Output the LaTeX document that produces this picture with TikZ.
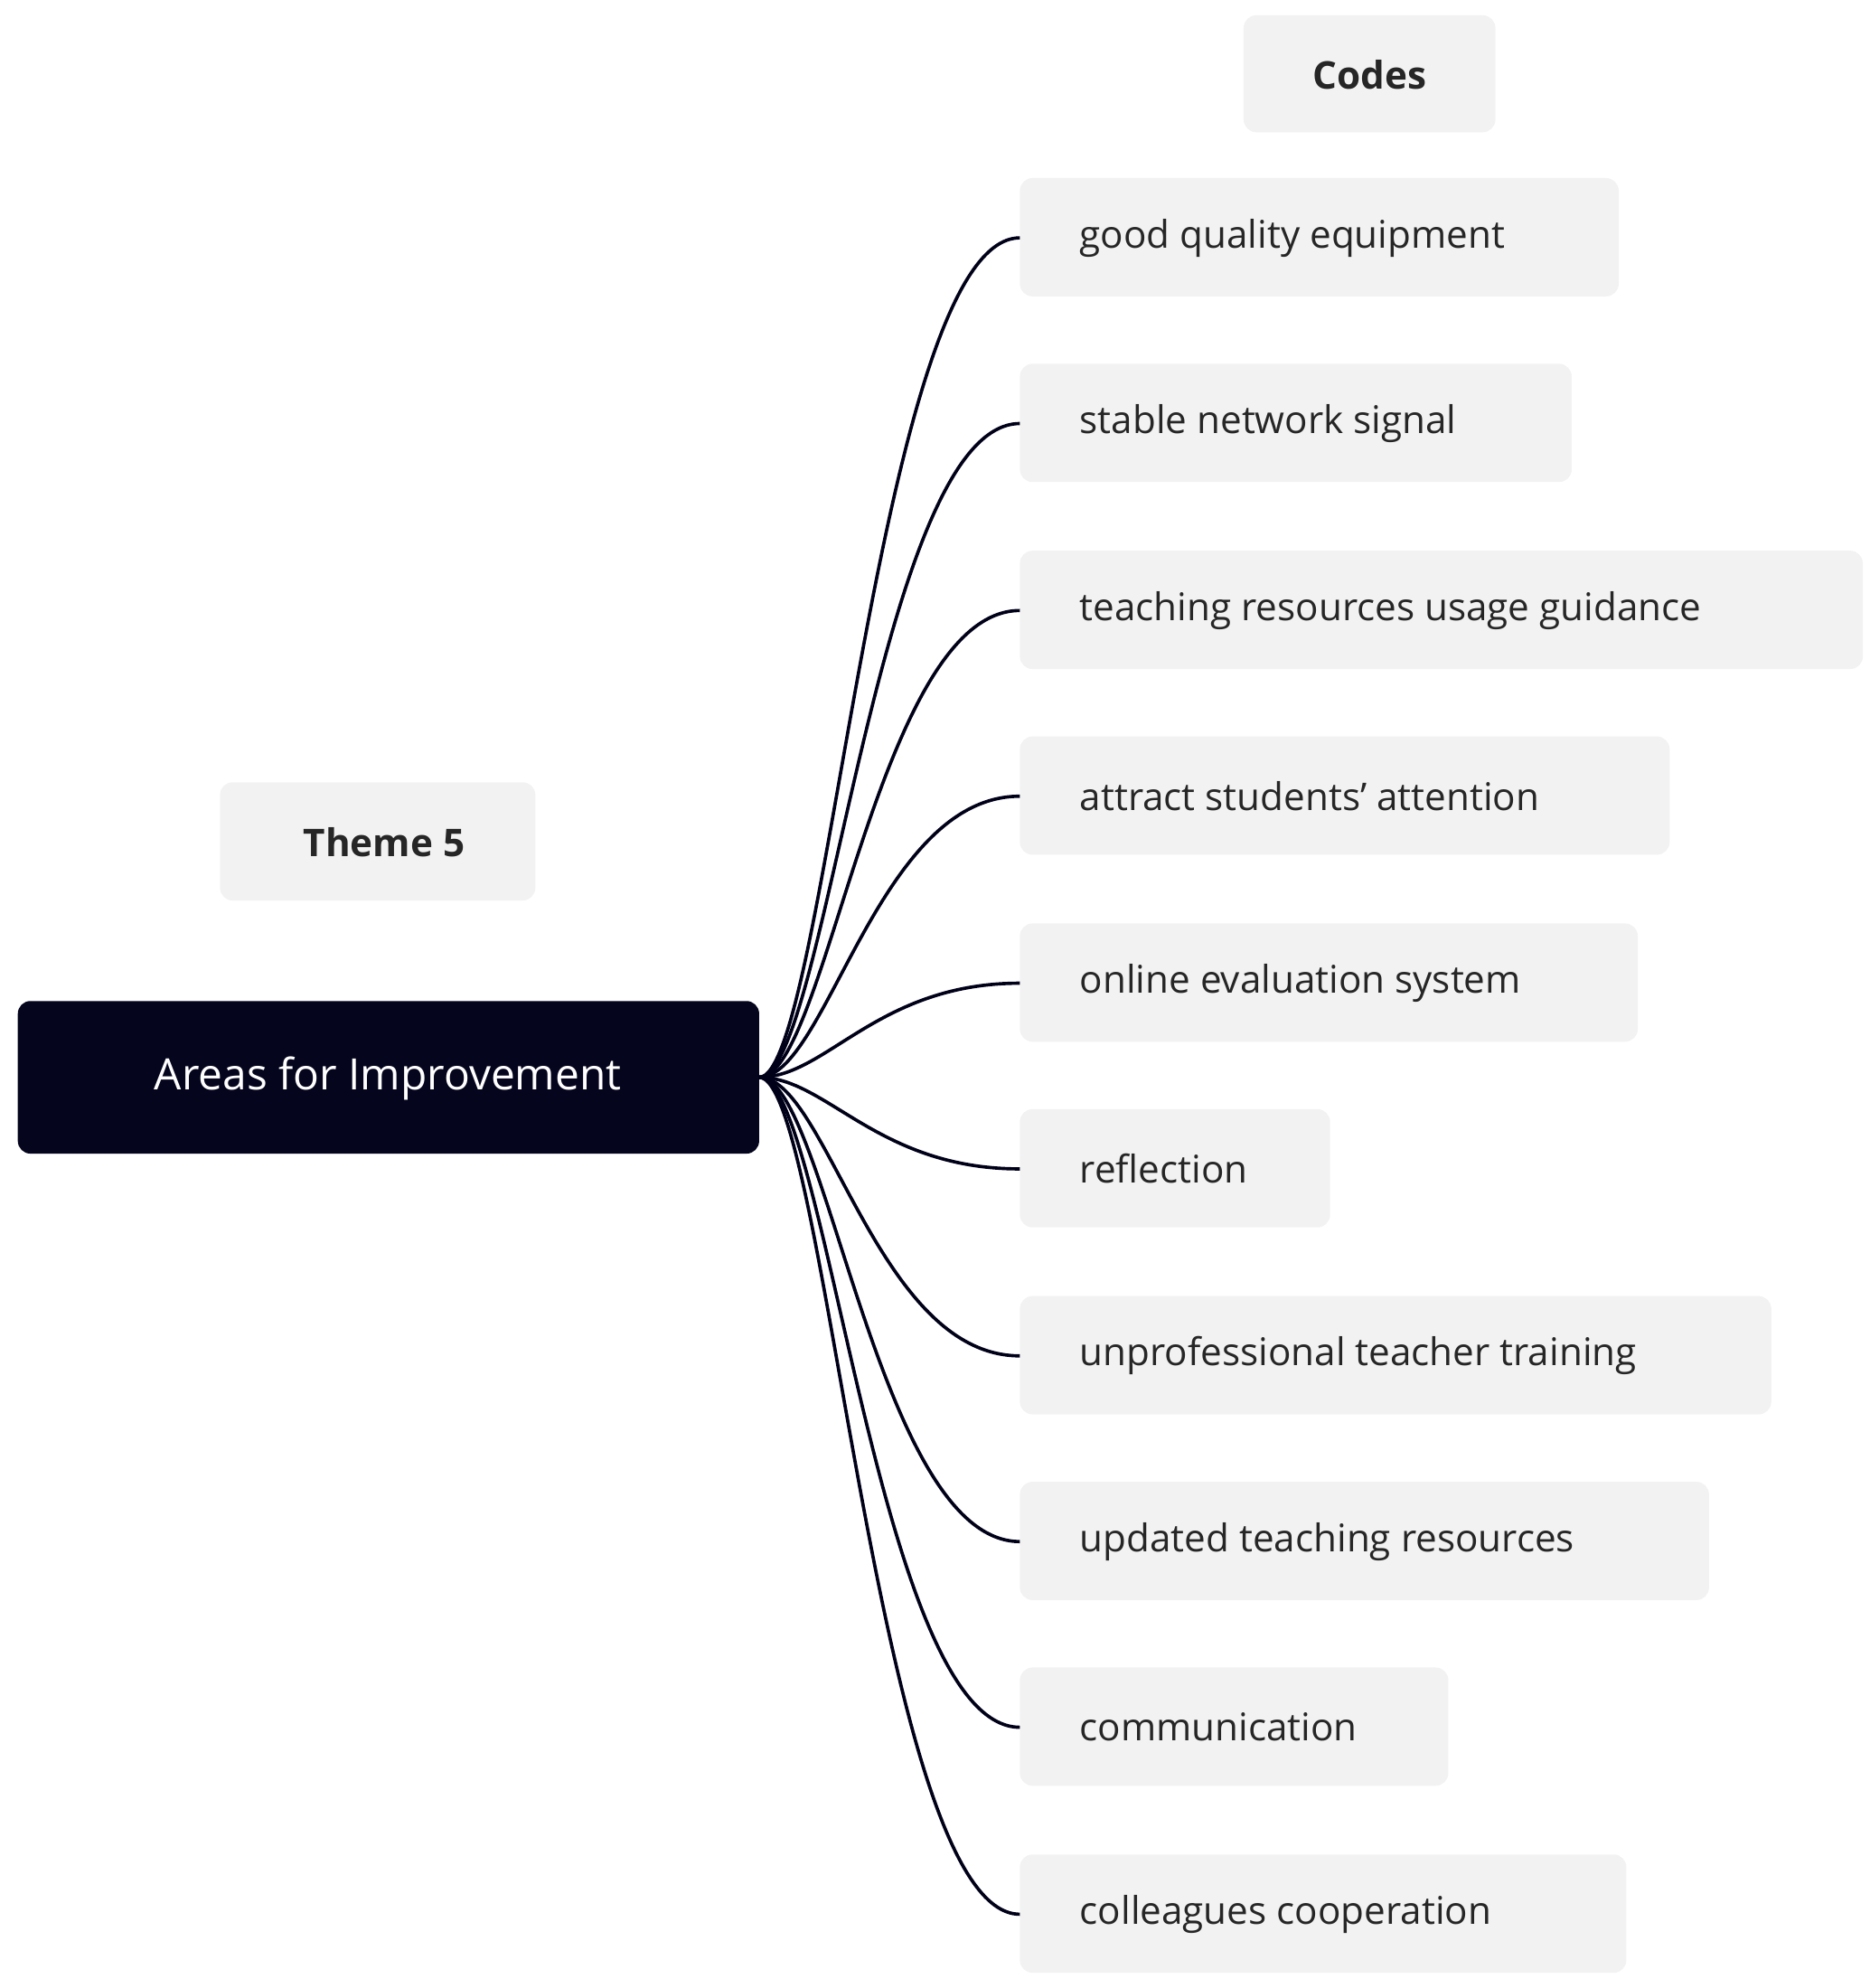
\documentclass[tikz,border=0pt]{standalone}
\usepackage{fontspec}
\setmainfont{Open Sans}
\begin{document}
\begin{tikzpicture}[x=1pt,y=-1pt,
 code/.style={fill=black!5,rounded corners=10pt,draw=none},
 lbl/.style={anchor=west,inner sep=0pt,font=\fontsize{30}{36}\selectfont,text=black!85},
 conn/.style={line width=2.6pt,draw=black!90!blue}]
\useasboundingbox (0,0) rectangle (1470,1563);
\definecolor{root}{HTML}{05051E}
\fill[code] (978,12) rectangle (1176,104);
\node[lbl,anchor=center,font=\fontsize{30}{36}\selectfont\bfseries] (codes) at (1077,59) {Codes};
\fill[code] (173,615) rectangle (421,708);
\node[lbl,anchor=center,font=\fontsize{30}{36}\selectfont\bfseries] (theme) at (302,662) {Theme 5};
\fill[root,rounded corners=10pt] (14,787) rectangle (597,907);
\node[lbl,anchor=center,text=white,font=\fontsize{34}{40}\selectfont] (root) at (305,848) {Areas for Improvement};
\coordinate (R) at (597,847);
\foreach \i/\y/\r/\t in {a/187/1273/good quality equipment,
 b/333/1236/stable network signal,
 c/480/1465/teaching resources usage guidance,
 d/626/1313/attract students' attention,
 e/773/1288/online evaluation system,
 f/919/1046/reflection,
 g/1066/1393/unprofessional teacher training,
 h/1212/1344/updated teaching resources,
 k/1358/1139/communication,
 l/1505/1279/colleagues cooperation}{
 \fill[code] (802,\y-47) rectangle (\r,\y+46);
 \coordinate (\i) at (802,\y);
 \node[lbl] (t\i) at (849,\y) {\t};
 \draw[conn] (R) .. controls (650,847) and (690,\y) .. (\i);
}
\end{tikzpicture}
\end{document}
